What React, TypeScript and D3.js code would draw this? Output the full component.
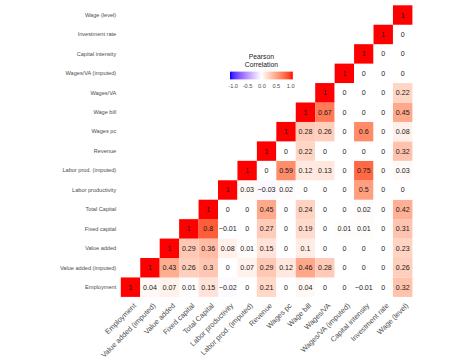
import * as d3 from 'd3'
import { useEffect, useRef } from 'react'

// variables, bottom row / left column first
const variables = [
  'Employment',
  'Value added (imputed)',
  'Value added',
  'Fixed capital',
  'Total Capital',
  'Labor productivity',
  'Labor prod. (imputed)',
  'Revenue',
  'Wages pc',
  'Wage bill',
  'Wages/VA',
  'Wages/VA (imputed)',
  'Capital intensity',
  'Investment rate',
  'Wage (level)',
]

// each row starts at its diagonal cell
const corrRows = [
  [1, 0.04, 0.07, 0.01, 0.15, -0.02, 0, 0.21, 0, 0.04, 0, 0, -0.01, 0, 0.32],
  [1, 0.43, 0.26, 0.3, 0, 0.07, 0.29, 0.12, 0.46, 0.28, 0, 0, 0, 0.26],
  [1, 0.29, 0.36, 0.08, 0.01, 0.15, 0, 0.1, 0, 0, 0, 0, 0.23],
  [1, 0.8, -0.01, 0, 0.27, 0, 0.19, 0, 0.01, 0.01, 0, 0.31],
  [1, 0, 0, 0.45, 0, 0.24, 0, 0, 0.02, 0, 0.42],
  [1, 0.03, -0.03, 0.02, 0, 0, 0, 0.5, 0, 0],
  [1, 0, 0.59, 0.12, 0.13, 0, 0.75, 0, 0.03],
  [1, 0, 0.22, 0, 0, 0, 0, 0.32],
  [1, 0.28, 0.26, 0, 0.6, 0, 0.08],
  [1, 0.67, 0, 0, 0, 0.45],
  [1, 0, 0, 0, 0.22],
  [1, 0, 0, 0],
  [1, 0, 0],
  [1, 0],
  [1],
]

const legendTicks = [-1, -0.5, 0, 0.5, 1]

const fmt = (v: number) => (v < 0 ? '\u2212' + String(-v) : String(v))

const Heatmap = () => {
  const ref = useRef<HTMLDivElement>(null)

  useEffect(() => {
    if (!ref.current) return
    const width = 474
    const height = 363
    const font = "'Liberation Sans', Arial, sans-serif"

    d3.select(ref.current).select('svg').remove()

    const svg = d3
      .select(ref.current)
      .append('svg')
      .attr('width', width)
      .attr('height', height)
      .style('display', 'block')
      .style('font-family', font)

    svg.append('rect').attr('width', width).attr('height', height).attr('fill', '#fff')

    const x = d3.scaleBand().domain(variables).range([120.8, 412.4])
    const y = d3.scaleBand().domain(variables.slice().reverse()).range([5.3, 296.9])

    const color = d3
      .scaleLinear<string>()
      .domain([-1, 0, 1])
      .range(['#0000ff', '#ffffff', '#ff0000'])
      .interpolate(d3.interpolateLab)

    const cells = corrRows.flatMap((row, i) =>
      row.map((v, k) => ({ rowVar: variables[i], colVar: variables[i + k], value: v }))
    )

    const g = svg.append('g')

    g.selectAll('rect.cell')
      .data(cells)
      .enter()
      .append('rect')
      .attr('class', 'cell')
      .attr('x', (d) => x(d.colVar)!)
      .attr('y', (d) => y(d.rowVar)!)
      .attr('width', x.bandwidth())
      .attr('height', y.bandwidth())
      .attr('fill', (d) => color(d.value))

    g.selectAll('text.val')
      .data(cells)
      .enter()
      .append('text')
      .attr('class', 'val')
      .attr('x', (d) => x(d.colVar)! + x.bandwidth() / 2)
      .attr('y', (d) => y(d.rowVar)! + y.bandwidth() / 2)
      .attr('dy', '0.35em')
      .attr('text-anchor', 'middle')
      .style('font-size', '7.1px')
      .attr('fill', '#1a1a1a')
      .text((d) => fmt(d.value))

    // Y axis labels
    svg
      .append('g')
      .attr('transform', `translate(120.8,0)`)
      .call(d3.axisLeft(y).tickSize(0).tickPadding(4.6))
      .call((a) => a.select('.domain').remove())
      .selectAll('text')
      .style('font-size', '5.6px')
      .style('font-family', font)
      .attr('fill', '#4d4d4d')

    // X axis labels, rotated
    svg
      .append('g')
      .selectAll('text')
      .data(variables)
      .enter()
      .append('text')
      .attr('transform', (d) => `translate(${x(d)! + x.bandwidth() / 2 + 2.5},302.5) rotate(-45)`)
      .attr('text-anchor', 'end')
      .attr('dy', '0.7em')
      .style('font-size', '7.3px')
      .attr('fill', '#4d4d4d')
      .text((d) => d)

    // Legend
    const lx = d3.scaleLinear().domain([-1, 1]).range([232.6, 290.2])
    const grad = svg
      .append('defs')
      .append('linearGradient')
      .attr('id', 'corrGrad')
      .attr('x1', '0%')
      .attr('x2', '100%')
    d3.range(0, 1.0001, 0.05).forEach((t) => {
      grad
        .append('stop')
        .attr('offset', `${t * 100}%`)
        .attr('stop-color', color(-1 + 2 * t))
    })
    svg
      .append('rect')
      .attr('x', 230)
      .attr('y', 71.6)
      .attr('width', 62.8)
      .attr('height', 7.8)
      .attr('fill', 'url(#corrGrad)')

    const title = svg
      .append('text')
      .attr('x', 261.4)
      .attr('text-anchor', 'middle')
      .style('font-size', '6.8px')
      .attr('fill', '#1a1a1a')
    title.append('tspan').attr('x', 261.4).attr('y', 59).text('Pearson')
    title.append('tspan').attr('x', 261.4).attr('y', 66.8).text('Correlation')

    svg
      .append('g')
      .attr('transform', 'translate(0,79.4)')
      .call(
        d3
          .axisBottom(lx)
          .tickValues(legendTicks)
          .tickSize(0)
          .tickPadding(5)
          .tickFormat((d) => {
            const v = d as number
            return (v < 0 ? '-' : '') + Math.abs(v).toFixed(1)
          })
      )
      .call((a) => a.select('.domain').remove())
      .selectAll('text')
      .style('font-size', '5.6px')
      .style('font-family', font)
      .attr('fill', '#4d4d4d')
  }, [])

  return <div ref={ref} style={{ position: 'absolute', left: 0, top: 0 }} />
}

export default function App() {
  return <Heatmap />
}
